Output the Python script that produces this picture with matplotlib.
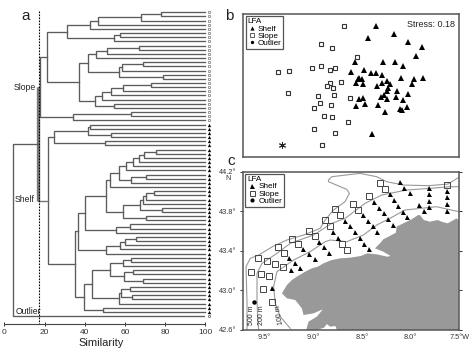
import matplotlib
matplotlib.use('Agg')
import matplotlib.pyplot as plt
import numpy as np
from matplotlib.lines import Line2D

W, H = 474.0, 356.0
plt.rcParams['font.family'] = ['Liberation Sans', 'DejaVu Sans']
LINE = '#555555'

# --- dendrogram, (left, right, similarity); 0 is a leaf
def p(s):
    return (0, 0, s)

slope_a = ((((p(78), 0, 67.8), 0, 46.8), 0, 42.7), (p(57.4), 0, 54.4), 31.1)
slope_b_up = (((p(66.9), 0, 51.1), 0, 45.8), ((p(68.8), 0, 58.4), p(78.8), 57.2), 41.6)
slope_b_low = ((((p(72.9), 0, 59.2), 0, 53.3), 0, 48.4), p(54.7), 45.0)
slope_c = (p(63), 0, 33.9)
slope = (((slope_a), (slope_b_up, slope_b_low, 37.3), 21.4), slope_c, 17.7)

shelf_a = ((p(42.6), p(52.9), 41.5), p(49.9), 24.5)
shelf_u = ((((p(75.3), 0, 69.4), 0, 66.9), 0, 64), 0, 60.7)
shelf_b1 = ((shelf_u, (p(70.7), 0, 63), 56.8), 0, 52.8)
shelf_b2 = ((((p(74.4), 0, 70.6), 0, 69), p(78.6), 67.6), p(70.6), 58.8)
shelf_c = (p(62.4), 0, 55.6)
shelf_d = (((p(65.3), 0, 60.1), 0, 57.4), 0, 50.6)
shelf_e = (((shelf_b1, shelf_b2, 50.6), shelf_c, 40.3), shelf_d, 36.8)
shelf_f1 = ((p(63.2), 0, 58.8), (p(64), p(69), 59.6), 52.8)
shelf_f2 = ((p(62.3), p(63.6), 57.8), 0, 56.8)
shelf_g = ((shelf_f1, shelf_f2, 43.6), p(49.1), 39.4)
shelf = (shelf_a, (shelf_e, shelf_g, 35), 21.6)
join_sim = 16.9
root_sim = 4.4
cut_sim = 17.4
n_slope, n_shelf, n_outlier = 27, 46, 1

# --- MDS points, digitised units
mds_slope_x = [320,253,284,360,124,157,226,253,278,293,311,278,271,288,152,244,291,339,250,281,230,260,286,334,230,293,254]
mds_slope_y = [77,131,143,172,215,212,204,199,209,204,246,250,259,263,280,288,286,293,310,314,323,349,351,366,388,400,435]
mds_shelf_x = [416,392,471,513,556,536,354,437,473,497,342,382,401,416,434,492,531,558,524,367,362,374,358,378,419,436,451,459,453,451,479,513,476,442,433,450,497,367,379,383,356,422,445,488,496,511,405]
mds_shelf_y = [77,113,101,125,141,168,187,186,187,198,217,209,220,219,226,234,238,234,251,235,236,237,250,252,259,249,244,253,263,272,273,282,290,285,292,296,301,298,294,311,318,314,337,327,331,322,402]
mds_outlier_x = [135]
mds_outlier_y = [436]

# --- map, digitised units converted to lon/lat below
land_x = [208,215,240,258,230,200,195,175,150,135,150,165,180,205,225,243,260,285,310,340,372,392,420,452,462,440,415,430,440,465,478,480,500,525,545,550,562,580,604,615,634,660,667,667,300,296,280,270,262,240]
land_y = [510,485,470,448,460,465,445,420,415,400,375,360,350,335,325,320,310,300,295,293,288,280,283,290,288,275,265,250,238,225,218,200,190,178,165,165,180,185,180,185,190,175,180,510,510,498,500,492,503,510]
iso500_x = [30,30,27,40,65,110,150,200,250,265,290,325,338,330,275,275,285,370,420,450,500,575,635,667]
iso500_y = [510,430,320,295,285,258,240,225,205,180,150,125,100,88,65,60,50,40,50,65,75,77,72,52]
iso200_x = [65,62,60,60,75,120,160,230,285,325,385,435,510,580,640,667]
iso200_y = [510,470,420,340,310,280,250,225,190,175,130,105,90,85,80,80]
iso100_x = [160,130,115,110,120,170,220,265,280,330,380,420,460,505,600,667]
iso100_y = [505,470,430,380,335,300,275,245,240,245,225,195,175,150,140,155]
map_shelf_x = [489,503,577,633,459,519,576,632,411,471,576,632,427,485,548,577,441,498,562,632,378,455,512,326,393,468,341,408,290,355,421,304,369,247,383,199,261,397,215,277,156,234,173,189,163,105]
map_shelf_y = [65,85,83,92,103,100,103,112,127,120,122,132,143,138,135,142,158,155,153,152,165,177,172,182,184,195,199,199,215,216,216,233,234,245,252,267,261,267,283,279,293,298,309,325,330,385]
map_slope_x = [430,444,632,396,348,296,364,311,265,279,217,233,164,182,123,317,330,140,64,89,114,138,42,71,97,77,105]
map_slope_y = [68,87,75,108,131,147,149,165,181,199,212,229,237,253,261,252,270,278,293,303,312,322,336,342,348,386,426]
map_outlier_x = [51]
map_outlier_y = [426]
lat_ticks = [42.6, 43.0, 43.4, 43.8, 44.2]
lon_ticks = [-9.5, -9.0, -8.5, -8.0, -7.5]
lon_labels = ['9.5°', '9.0°', '8.5°', '8.0°', '7.5°W']


def to_lon(x):
    return -9.5 + (np.asarray(x, dtype=float) - 83) * 0.5 / 146.4


def to_lat(y):
    return 44.2 - (np.asarray(y, dtype=float) - 35) * 1.6 / 475.0


def box(x0, y0, x1, y1):
    return [x0 / W, 1 - y1 / H, (x1 - x0) / W, (y1 - y0) / H]


fig = plt.figure(figsize=(4.74, 3.56), dpi=100, facecolor='white')

# ---------- a
ax = fig.add_axes(box(4.4, 5, 205.3, 323.7))
ax.set_xlim(0, 100)
ax.set_ylim(75.85, -0.75)
row = [0]


def draw(node):
    if not isinstance(node, tuple):
        row[0] += 1
        return row[0], 100.0
    y1, s1 = draw(node[0])
    y2, s2 = draw(node[1])
    s = node[2]
    ax.plot([s1, s, s, s2], [y1, y1, y2, y2], color='#5c5c5c', lw=0.95, solid_joinstyle='miter', clip_on=False)
    return (y1 + y2) / 2, s


y_a, s_a = draw(slope)
y_b, s_b = draw(shelf)
y_o, s_o = draw(0)
ax.plot([s_a, join_sim, join_sim, s_b], [y_a, y_a, y_b, y_b], color='#777777', lw=1.0)
ax.plot([join_sim, join_sim], [y_a, y_b], color='#777777', lw=2.4, solid_capstyle='butt')
y_j = (y_a + y_b) / 2
ax.plot([join_sim, root_sim, root_sim, s_o], [y_j, y_j, y_o, y_o], color='#5c5c5c', lw=0.95)
ax.plot([cut_sim, cut_sim], [0.6, 75.85], color='black', lw=0.8, ls=(0, (1.5, 1.2)), clip_on=False)

rows = np.arange(1, n_slope + n_shelf + n_outlier + 1)
ax.plot(np.full(n_slope, 101.8), rows[:n_slope], 's', ms=1.9, mfc='white', mec='#777777', mew=0.5, clip_on=False)
ax.plot(np.full(n_shelf, 101.8), rows[n_slope:n_slope + n_shelf], '^', ms=2.4, color='black', mew=0, clip_on=False)
ax.plot([101.8], rows[-1:], 'o', ms=1.6, mfc='white', mec='#555555', mew=0.5, clip_on=False)

for s in ['top', 'left', 'right']:
    ax.spines[s].set_visible(False)
ax.patch.set_visible(False)
ax.spines['bottom'].set_color('#444444')
ax.spines['bottom'].set_linewidth(0.8)
ax.set_yticks([])
ax.set_xticks(np.arange(0, 101, 20))
ax.tick_params(axis='x', length=2.2, width=0.7, direction='inout', labelsize=6, pad=3, colors='#333333')
ax.set_xlabel('Similarity', fontsize=8, color='#222222')
ax.xaxis.set_label_coords(0.48, -0.045)
fig.text(25.5 / W, 1 - 15.5 / H, 'a', fontsize=11, ha='center', va='center', color='#222222')
fig.text(13.5 / W, 1 - 87.5 / H, 'Slope', fontsize=6.2, ha='left', va='center', color='#222222')
fig.text(15 / W, 1 - 199 / H, 'Shelf', fontsize=6.2, ha='left', va='center', color='#222222')
fig.text(15.5 / W, 1 - 311.5 / H, 'Outlier', fontsize=6.2, ha='left', va='center', color='#222222')

# ---------- b
ax = fig.add_axes(box(242.7, 14, 458.7, 156.7))
ax.set_xlim(17, 665)
ax.set_ylim(470, 42)
ax.plot(mds_shelf_x, mds_shelf_y, '^', ms=4.5, color='black', mew=0, label='Shelf')
ax.plot(mds_slope_x, mds_slope_y, 's', ms=3.4, mfc='white', mec='#333333', mew=0.8, label='Slope')
ax.plot(mds_outlier_x, mds_outlier_y, marker=(6, 2, 0), ls='none', ms=5, color='#222222', mew=0.7, label='Outlier')
for s in ax.spines.values():
    s.set_color(LINE)
    s.set_linewidth(1.1)
ax.set_xticks([])
ax.set_yticks([])
ax.text(0.985, 0.96, 'Stress: 0.18', transform=ax.transAxes, fontsize=6.5, ha='right', va='top', color='#222222')
leg = ax.legend(handles=[
    Line2D([], [], marker='^', ls='none', ms=3, color='black', mew=0, label='Shelf'),
    Line2D([], [], marker='s', ls='none', ms=3, mfc='white', mec='#444444', mew=0.6, label='Slope'),
    Line2D([], [], marker='o', ls='none', ms=2.4, color='black', mew=0, label='Outlier')],
    title='LFA', loc='upper left', bbox_to_anchor=(0.0135, 0.985), borderaxespad=0,
    fontsize=5.9, title_fontsize=5.9, fancybox=False, framealpha=1, edgecolor=LINE,
    handletextpad=0.1, handlelength=1.2, labelspacing=-0.05, borderpad=0.2)
leg.get_frame().set_linewidth(0.9)
leg._legend_box.align = 'left'
leg._legend_box.sep = 0
fig.text(229.5 / W, 1 - 16 / H, 'b', fontsize=11, ha='center', va='center', color='#222222')

# ---------- c
ax = fig.add_axes(box(242.7, 171.7, 459.3, 330))
ax.set_xlim(to_lon(17), to_lon(667))
ax.set_ylim(42.6, 44.2)
ax.fill(to_lon(land_x), to_lat(land_y), color='#999999', lw=0, zorder=1)
for xs, ys in [(iso500_x, iso500_y), (iso200_x, iso200_y), (iso100_x, iso100_y)]:
    ax.plot(to_lon(xs), to_lat(ys), color='#999999', lw=0.8, zorder=2)
ax.plot(to_lon(map_shelf_x), to_lat(map_shelf_y), '^', ms=3.6, color='black', mew=0, zorder=3)
ax.plot(to_lon(map_slope_x), to_lat(map_slope_y), 's', ms=3.7, mfc='none', mec='#444444', mew=0.7, zorder=3)
ax.plot(to_lon(map_outlier_x), to_lat(map_outlier_y), 'o', ms=3.2, color='black', mew=0, zorder=3)
ax.text(to_lon(43), to_lat(465), '500 m', rotation=90, fontsize=5, ha='center', va='center', color='#222222')
ax.text(to_lon(73), to_lat(465), '200 m', rotation=90, fontsize=5, ha='center', va='center', color='#222222')
ax.text(to_lon(128), to_lat(465), '100 m', rotation=100, fontsize=5, ha='center', va='center', color='#222222')
for s in ax.spines.values():
    s.set_color(LINE)
    s.set_linewidth(1.1)
ax.set_xticks(lon_ticks, lon_labels)
ax.set_yticks(lat_ticks, [f'{v:.1f}°' for v in lat_ticks])
ax.tick_params(axis='x', length=0, labelsize=5.3, pad=3, colors='#333333')
ax.tick_params(axis='y', length=2.2, width=0.7, labelsize=5.3, pad=2.5, colors='#333333', right=True)
ax.set_xticks([-9.0, -8.0], minor=True)
ax.tick_params(axis='x', which='minor', length=2.2, width=0.7, top=True, bottom=False, color='#333333')
fig.text(225.5 / W, 1 - 178.5 / H, 'N', fontsize=5.3, ha='left', va='center', color='#333333')
leg = ax.legend(handles=[
    Line2D([], [], marker='^', ls='none', ms=3.6, color='black', mew=0, label='Shelf'),
    Line2D([], [], marker='s', ls='none', ms=3.6, mfc='white', mec='#444444', mew=0.7, label='Slope'),
    Line2D([], [], marker='o', ls='none', ms=3, color='black', mew=0, label='Outlier')],
    title='LFA', loc='upper left', bbox_to_anchor=(0.0125, 0.985), borderaxespad=0,
    fontsize=5.9, title_fontsize=5.9, fancybox=False, framealpha=1, edgecolor=LINE,
    handletextpad=0.1, handlelength=1.3, labelspacing=-0.05, borderpad=0.2)
leg.get_frame().set_linewidth(0.9)
leg._legend_box.align = 'left'
leg._legend_box.sep = 0
fig.text(231.5 / W, 1 - 161 / H, 'c', fontsize=11, ha='center', va='center', color='#222222')

fig.savefig('out.png', dpi=100)
